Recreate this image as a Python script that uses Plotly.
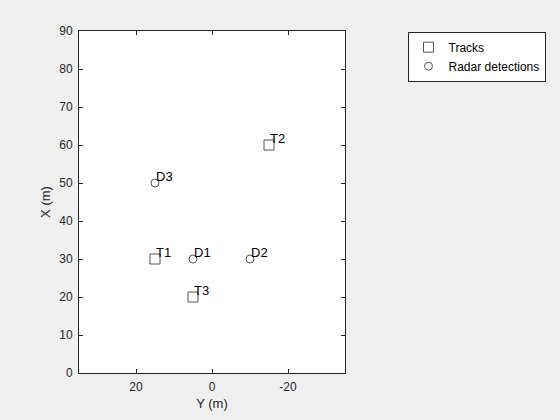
import plotly.graph_objects as go

# Data (Y is plotted on the horizontal axis, X on the vertical axis)
track_names = ["T1", "T2", "T3"]
track_y = [15, -15, 5]
track_x = [30, 60, 20]

det_names = ["D1", "D2", "D3"]
det_y = [5, -10, 15]
det_x = [30, 30, 50]

x_ticks = [20, 0, -20]
x_tick_labels = ["20", "0", "-20"]
y_ticks = [0, 10, 20, 30, 40, 50, 60, 70, 80, 90]

FONT = "Liberation Sans, Arial, Helvetica, sans-serif"
GRAY = "#262626"

fig = go.Figure()
fig.add_trace(go.Scatter(
    x=track_y, y=track_x, mode="markers", name="Tracks",
    marker=dict(symbol="square-open", size=10, color="#555555", line=dict(width=1)),
))
fig.add_trace(go.Scatter(
    x=det_y, y=det_x, mode="markers", name="Radar detections",
    marker=dict(symbol="circle-open", size=8, color="#555555", line=dict(width=1)),
))

annotations = []
for names, xs, ys in [(track_names, track_y, track_x), (det_names, det_y, det_x)]:
    for n, xv, yv in zip(names, xs, ys):
        annotations.append(dict(
            x=xv, y=yv, xref="x", yref="y", text=n, showarrow=False,
            xanchor="left", yanchor="middle", xshift=-1, yshift=7,
            font=dict(family=FONT, size=13, color="black"),
        ))

axis_common = dict(
    showgrid=False, zeroline=False, showline=True, mirror="ticks",
    linecolor=GRAY, linewidth=1, ticks="inside", ticklen=4, tickcolor=GRAY,
    tickfont=dict(family=FONT, size=12, color=GRAY), ticklabelstandoff=3,
)

fig.update_layout(
    width=560, height=420,
    paper_bgcolor="#f0f0f0", plot_bgcolor="white",
    margin=dict(l=79, r=215, t=31, b=47),
    font=dict(family=FONT, color=GRAY),
    xaxis=dict(range=[35, -35], tickvals=x_ticks, ticktext=x_tick_labels,
               title=dict(text="Y (m)", font=dict(family=FONT, size=13, color=GRAY), standoff=5),
               **axis_common),
    yaxis=dict(range=[0, 90], tickvals=y_ticks,
               title=dict(text="X (m)", font=dict(family=FONT, size=13, color=GRAY), standoff=5),
               **axis_common),
    legend=dict(x=1.235, y=0.998, xanchor="left", yanchor="top",
                bgcolor="white", bordercolor=GRAY, borderwidth=1,
                font=dict(family=FONT, size=12, color="black"),
                tracegroupgap=0, itemwidth=30),
    annotations=annotations,
    showlegend=True,
)

fig.write_html(
    "out.html",
    config={"displayModeBar": False},
    post_script="document.body.style.margin='0';document.body.style.background='#f0f0f0';",
)
